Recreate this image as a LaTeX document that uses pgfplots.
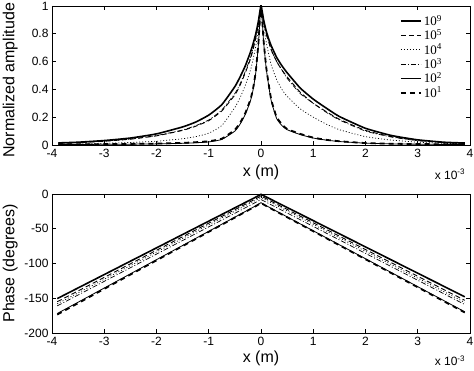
\documentclass[border=0pt]{standalone}
\usepackage{fontspec}
\setmainfont{Liberation Sans}
\newfontfamily\timesf{Liberation Serif}
\usepackage{pgfplots}
\usepackage{pgfplotstable}
\pgfplotsset{compat=1.18}

\pgfplotstableread{
x A B C D E F
-3.88 0.015 0.012 0.006 0.0124 0.003 0.004
-3.5 0.02 0.017 0.008 0.0175 0.004 0.005
-3 0.032 0.027 0.012 0.028 0.005 0.006
-2.5 0.05 0.042 0.018 0.043 0.006 0.008
-2 0.08 0.066 0.027 0.068 0.008 0.010
-1.5 0.13 0.105 0.045 0.108 0.012 0.015
-1.25 0.165 0.135 0.06 0.139 0.016 0.020
-1 0.215 0.175 0.085 0.18 0.022 0.027
-0.75 0.29 0.245 0.14 0.252 0.04 0.045
-0.5 0.42 0.36 0.27 0.37 0.10 0.11
-0.4 0.49 0.43 0.34 0.44 0.15 0.16
-0.3 0.57 0.52 0.43 0.53 0.22 0.23
-0.2 0.67 0.62 0.54 0.63 0.32 0.33
-0.15 0.73 0.69 0.62 0.70 0.40 0.41
-0.1 0.80 0.77 0.71 0.78 0.52 0.53
-0.05 0.89 0.87 0.84 0.88 0.72 0.73
0 1 1 1 1 1 1
0.05 0.90 0.89 0.86 0.89 0.74 0.75
0.1 0.82 0.80 0.74 0.80 0.55 0.56
0.15 0.76 0.74 0.65 0.74 0.42 0.43
0.2 0.71 0.68 0.57 0.68 0.31 0.32
0.3 0.63 0.60 0.47 0.60 0.19 0.20
0.4 0.57 0.54 0.40 0.54 0.14 0.15
0.5 0.52 0.49 0.35 0.48 0.11 0.115
0.75 0.41 0.38 0.26 0.37 0.075 0.08
1 0.33 0.30 0.20 0.30 0.05 0.053
1.25 0.265 0.24 0.15 0.235 0.035 0.037
1.5 0.205 0.185 0.11 0.18 0.025 0.027
2 0.12 0.105 0.06 0.10 0.013 0.014
2.5 0.068 0.06 0.035 0.057 0.008 0.009
3 0.037 0.033 0.02 0.031 0.006 0.007
3.5 0.02 0.018 0.012 0.017 0.004 0.005
3.9 0.014 0.012 0.008 0.011 0.003 0.004
}\amp

\pgfplotstableread{
x A B C D E F
-3.9 -150.5 -155 -158 -161 -172 -173.5
-0.1 -4.5 -7 -9 -12 -17 -17.5
0 -0.5 -3 -5 -8 -12.5 -13
0.1 -4.3 -6.8 -8.8 -11.8 -16.8 -17.3
3.9 -148 -153 -156 -159 -169.5 -170.5
}\phase

\pgfplotsset{
  every axis/.append style={
    scale only axis, width=418pt, height=139pt,
    xmin=-4, xmax=4, clip mode=individual,
    xtick={-4,-3,-2,-1,0,1,2,3,4},
    xticklabels={-4,-3,-2,-1,0,1,2,3,4},
    tick align=inside, major tick length=4pt,
    xtick pos=both, ytick pos=both,
    tick label style={font=\fontsize{12}{14}\selectfont},
    xticklabel style={yshift=-1pt},
    label style={font=\fontsize{16}{18}\selectfont},
    axis line style={line width=0.6pt},
    every tick/.style={line width=0.6pt, black},
    xlabel={x (m)},
  },
  s9/.style={black, line width=1.6pt},
  s5/.style={black, line width=0.9pt, dash pattern=on 5pt off 3pt},
  s4/.style={black, line width=0.7pt, dash pattern=on 1pt off 2pt},
  s3/.style={black, line width=0.7pt, dash pattern=on 5pt off 2pt on 1pt off 2pt},
  s2/.style={black, line width=0.8pt},
  s1/.style={black, line width=1.8pt, dash pattern=on 5pt off 4pt},
}

\begin{document}
\begin{tikzpicture}
\useasboundingbox (0,0) rectangle (474pt,371pt);
\begin{axis}[
  at={(52pt,226pt)}, anchor=south west,
  ymin=0, ymax=1,
  ytick={0,0.2,0.4,0.6,0.8,1},
  yticklabels={0,0.2,0.4,0.6,0.8,1},
  ylabel={Normalized amplitude},
  ylabel style={at={(axis description cs:-0.1,0.465)}, anchor=center},
  xlabel style={at={(axis description cs:0.5,-0.195)}, anchor=center},
  legend style={at={(0.945,0.965)}, anchor=north east, draw=none, fill=none,
    font=\timesf\fontsize{13}{14}\selectfont, row sep=-1.5pt,
    /tikz/every even column/.append style={column sep=2pt}},
  legend cell align=left,
  legend image code/.code={\draw[#1] (0pt,0pt) -- (20pt,0pt);},
]
\addplot[s9, smooth, tension=0.3] table[x=x,y=A] {\amp};
\addlegendentry{10\textsuperscript{9}}
\addplot[s5, smooth, tension=0.3] table[x=x,y=B] {\amp};
\addlegendentry{10\textsuperscript{5}}
\addplot[s4, smooth, tension=0.3] table[x=x,y=C] {\amp};
\addlegendentry{10\textsuperscript{4}}
\addplot[s3, smooth, tension=0.3] table[x=x,y=D] {\amp};
\addlegendentry{10\textsuperscript{3}}
\addplot[s2, smooth, tension=0.3] table[x=x,y=E] {\amp};
\addlegendentry{10\textsuperscript{2}}
\addplot[s1, smooth, tension=0.3] table[x=x,y=F] {\amp};
\addlegendentry{10\textsuperscript{1}}
\node[anchor=center, font=\fontsize{12}{14}\selectfont] at (axis description cs:0.952,-0.21) {x 10\textsuperscript{-3}};
\end{axis}

\begin{axis}[
  at={(52pt,38pt)}, anchor=south west,
  ymin=-200, ymax=0,
  ytick={-200,-150,-100,-50,0},
  yticklabels={-200,-150,-100,-50,0},
  ylabel={Phase (degrees)},
  ylabel style={at={(axis description cs:-0.1,0.5)}, anchor=center},
  xlabel style={at={(axis description cs:0.5,-0.185)}, anchor=center},
]
\addplot[s9] table[x=x,y=A] {\phase};
\addplot[s5] table[x=x,y=B] {\phase};
\addplot[s4] table[x=x,y=C] {\phase};
\addplot[s3] table[x=x,y=D] {\phase};
\addplot[s2] table[x=x,y=E] {\phase};
\addplot[s1] table[x=x,y=F] {\phase};
\node[anchor=center, font=\fontsize{12}{14}\selectfont] at (axis description cs:0.952,-0.2) {x 10\textsuperscript{-3}};
\end{axis}
\end{tikzpicture}
\end{document}
